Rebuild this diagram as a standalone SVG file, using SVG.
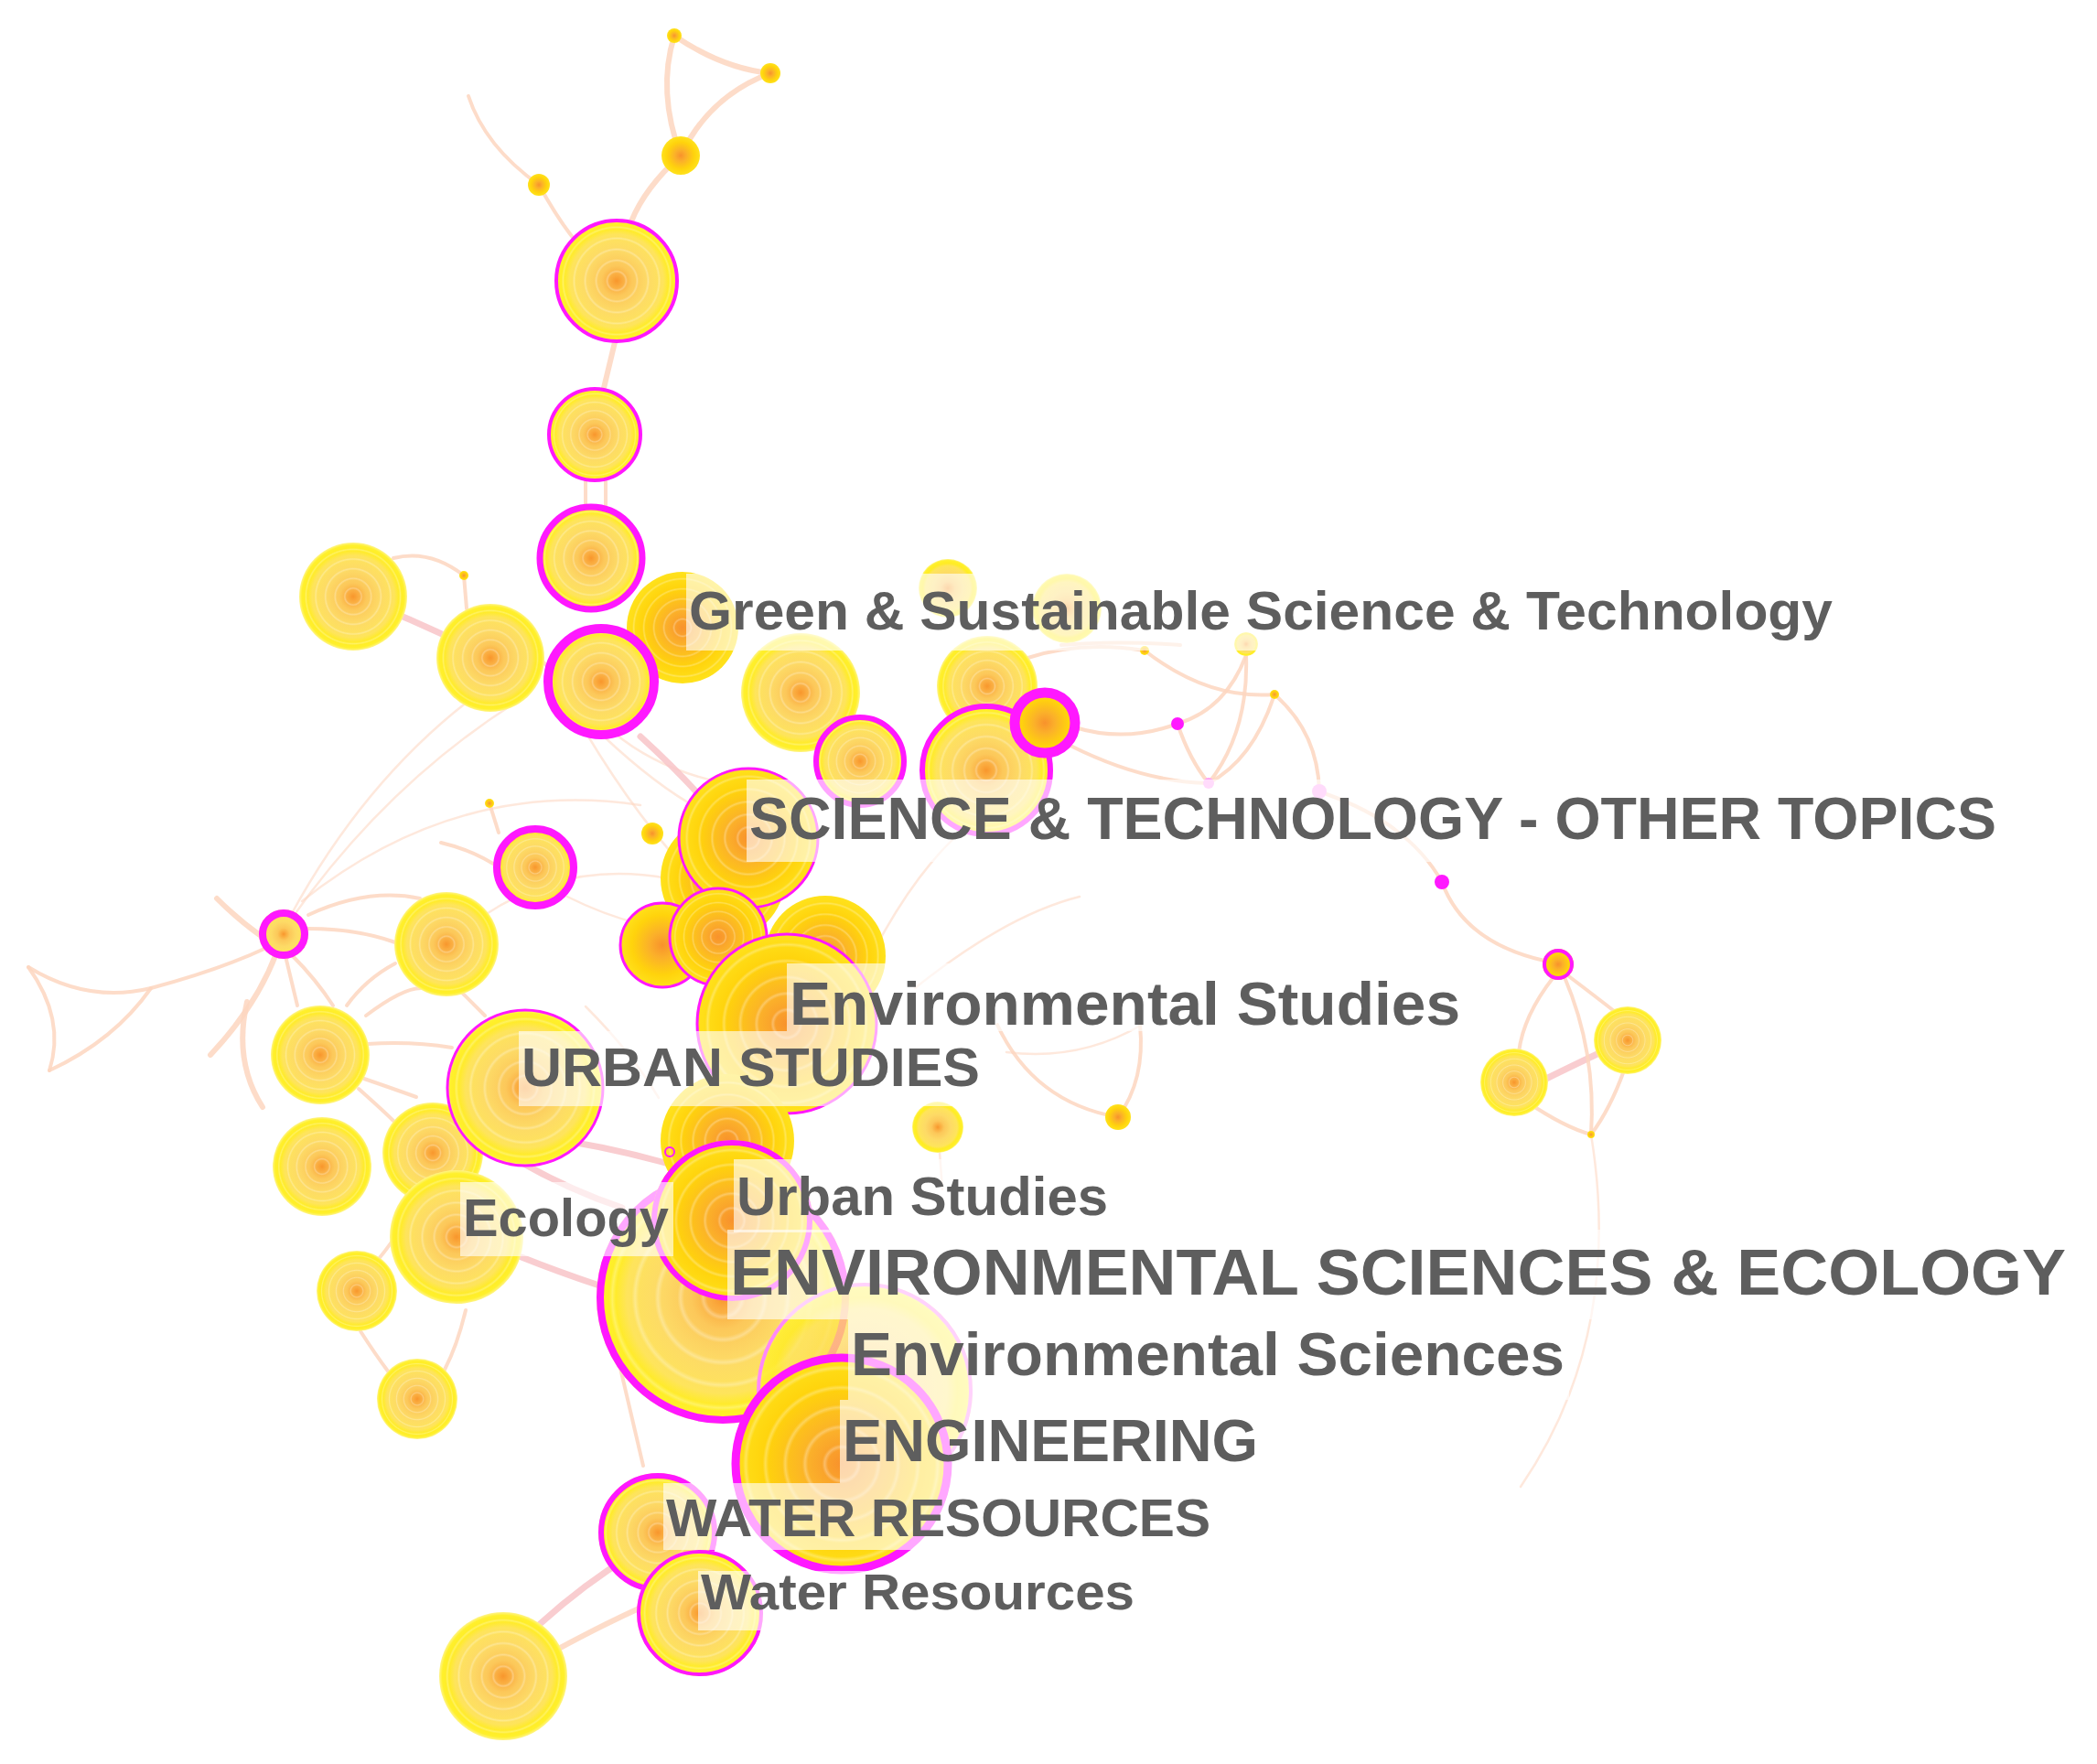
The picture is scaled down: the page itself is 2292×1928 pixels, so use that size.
<svg xmlns="http://www.w3.org/2000/svg" width="2292" height="1928" viewBox="0 0 2292 1928">
<defs>
<radialGradient id="gY">
<stop offset="0" stop-color="#f8962c"/>
<stop offset="0.08" stop-color="#faa83c"/>
<stop offset="0.25" stop-color="#fcc85a"/>
<stop offset="0.5" stop-color="#fdda66"/>
<stop offset="0.76" stop-color="#fee45c"/>
<stop offset="0.86" stop-color="#ffec24"/>
<stop offset="0.95" stop-color="#fff02c"/>
<stop offset="1" stop-color="#fff488"/>
</radialGradient>
<radialGradient id="gS">
<stop offset="0" stop-color="#f8922c"/>
<stop offset="0.3" stop-color="#fbb02a"/>
<stop offset="0.7" stop-color="#ffd30c"/>
<stop offset="1" stop-color="#ffe21c"/>
</radialGradient>
<radialGradient id="rings" r="0.09" spreadMethod="repeat">
<stop offset="0" stop-color="#fff" stop-opacity="0"/>
<stop offset="0.7" stop-color="#fff" stop-opacity="0"/>
<stop offset="0.86" stop-color="#fff" stop-opacity="0.28"/>
<stop offset="1" stop-color="#fff" stop-opacity="0"/>
</radialGradient>
</defs>
<style>
.n{fill:url(#gY)}
.s{fill:url(#gS)}
.rg{fill:url(#rings)}
.m{fill:none;stroke:#ff18ff}
.ml{fill:none;stroke:#ff88f8}
.e{fill:none;stroke:#fdd6c0;stroke-width:4;stroke-linecap:round;opacity:.85}
.ep{stroke:#f8c4c8;stroke-width:7}
.ef{stroke-width:2.5;opacity:.55}
.ew{stroke-width:6}
.lb{fill:#fff;fill-opacity:.62}
.t{font-family:"Liberation Sans",Arial,Helvetica,sans-serif;font-weight:bold;fill:#5e5e5e}
</style>
<rect width="2292" height="1928" fill="#fff"/>

<g id="edges">
<path class="e ew" d="M737,39 Q718,100 744,170"/>
<path class="e ew" d="M737,39 Q790,75 842,80"/>
<path class="e ew" d="M842,80 Q775,105 744,170"/>
<path class="e ew" d="M744,170 Q705,205 690,242"/>
<path class="e" d="M589,202 Q610,240 628,262"/>
<path class="e" d="M589,202 Q530,160 512,105"/>
<path class="e ew" d="M672,374 L660,424"/>
<path class="e" d="M640,526 L640,552"/>
<path class="e" d="M662,526 L662,552"/>
<path class="e ep" d="M386,652 Q460,680 536,719"/>
<path class="e" d="M430,610 Q470,600 507,629"/>
<path class="e" d="M507,629 L510,665"/>
<path class="e" d="M590,720 L610,740"/>
<path class="e" d="M700,730 L712,708"/>
<path class="e ef" d="M640,800 Q700,900 760,960"/>
<path class="e ef" d="M660,805 Q740,880 800,900"/>
<path class="e ef" d="M670,800 Q730,850 820,860"/>
<path class="e ep" d="M700,805 Q760,860 790,900"/>
<path class="e ef" d="M520,760 Q400,850 318,1000"/>
<path class="e ef" d="M560,770 Q420,860 318,1005"/>
<path class="e ef" d="M330,985 Q500,850 700,880"/>
<path class="e" d="M31,1057 Q96,1097 165,1080 Q240,1060 291,1036"/>
<path class="e" d="M31,1057 Q72,1114 54,1170"/>
<path class="e" d="M54,1170 Q125,1137 165,1080"/>
<path class="e ew" d="M237,982 Q260,1005 284,1022"/>
<path class="e" d="M337,1000 Q402,970 459,982"/>
<path class="e" d="M337,1015 Q390,1015 432,1030"/>
<path class="e ew" d="M302,1042 Q280,1100 230,1153"/>
<path class="e ew" d="M270,1095 Q255,1160 287,1210"/>
<path class="e" d="M320,1045 Q345,1070 364,1099"/>
<path class="e" d="M312,1045 L325,1099"/>
<path class="e" d="M402,1141 Q450,1138 494,1145"/>
<path class="e" d="M379,1099 Q400,1070 432,1053"/>
<path class="e" d="M400,1110 Q440,1080 460,1080"/>
<path class="e" d="M398,1179 Q430,1190 455,1199"/>
<path class="e" d="M392,1190 Q420,1215 430,1225"/>
<path class="e" d="M500,1080 Q520,1100 530,1110"/>
<path class="e" d="M394,1455 Q410,1480 425,1500"/>
<path class="e" d="M509,1432 Q500,1470 486,1497"/>
<path class="e" d="M440,1340 Q420,1370 410,1380"/>
<path class="e ep" d="M585,1242 Q660,1252 731,1272"/>
<path class="e ep" d="M570,1374 Q610,1390 655,1405"/>
<path class="e ep" d="M560,1265 Q620,1300 680,1320"/>
<path class="e" d="M482,921 Q520,930 548,950"/>
<path class="e" d="M535,878 L545,910"/>
<path class="e ef" d="M530,1000 Q620,940 730,960"/>
<path class="e ef" d="M620,980 Q660,1000 700,1010"/>
<path class="e ef" d="M640,1100 Q690,1150 720,1200"/>
<path class="e" d="M677,1491 L703,1602"/>
<path class="e ep" d="M590,1775 Q640,1730 690,1700"/>
<path class="e ew" d="M605,1805 Q660,1775 705,1755"/>
<path class="e" d="M1175,795 Q1230,812 1287,791"/>
<path class="e" d="M1120,720 Q1180,700 1251,711"/>
<path class="e" d="M1251,711 Q1320,765 1393,759"/>
<path class="e" d="M1362,716 Q1340,775 1287,791"/>
<path class="e" d="M1362,716 Q1365,800 1321,856"/>
<path class="e" d="M1393,759 Q1440,800 1442,864"/>
<path class="e" d="M1287,791 Q1300,830 1321,856"/>
<path class="e" d="M1393,759 Q1370,830 1321,856"/>
<path class="e" d="M1170,815 Q1250,855 1321,856"/>
<path class="e" d="M1160,705 Q1220,700 1290,705"/>
<path class="e" d="M1450,868 Q1540,900 1576,964"/>
<path class="e" d="M1576,964 Q1600,1030 1688,1050"/>
<path class="e" d="M1712,1065 Q1745,1090 1768,1108"/>
<path class="e" d="M1698,1068 Q1665,1110 1660,1150"/>
<path class="e ep" d="M1750,1150 Q1712,1168 1688,1180"/>
<path class="e" d="M1670,1205 Q1710,1232 1739,1240"/>
<path class="e" d="M1775,1170 Q1760,1212 1739,1240"/>
<path class="e" d="M1710,1068 Q1745,1150 1739,1240"/>
<path class="e ef" d="M1739,1240 Q1775,1460 1662,1625"/>
<path class="e" d="M1090,1120 Q1130,1205 1222,1221"/>
<path class="e" d="M1222,1221 Q1252,1180 1246,1120"/>
<path class="e ef" d="M1100,1150 Q1180,1160 1248,1120"/>
<path class="e ef" d="M960,1030 Q1020,920 1090,880"/>
<path class="e ef" d="M1025,1232 L1030,1300"/>
<path class="e ef" d="M1000,1080 Q1100,1000 1180,980"/>
</g>

<g id="n1"><circle class="s" cx="737" cy="39" r="8"/></g>
<g id="n2"><circle class="s" cx="842" cy="80" r="11"/></g>
<g id="n3"><circle class="s" cx="744" cy="170" r="21"/></g>
<g id="n4"><circle class="s" cx="589" cy="202" r="12"/></g>
<g id="n5"><circle class="n" cx="674" cy="307" r="67"/><circle class="rg" cx="674" cy="307" r="67"/><circle class="m" cx="674" cy="307" r="66" stroke-width="4"/></g>
<g id="n6"><circle class="n" cx="650" cy="475" r="51"/><circle class="rg" cx="650" cy="475" r="51"/><circle class="m" cx="650" cy="475" r="50" stroke-width="4"/></g>
<g id="n7"><circle class="n" cx="646" cy="610" r="58"/><circle class="rg" cx="646" cy="610" r="58"/><circle class="m" cx="646" cy="610" r="56" stroke-width="7"/></g>
<g id="n9"><circle class="n" cx="386" cy="652" r="59"/><circle class="rg" cx="386" cy="652" r="59"/></g>
<g id="n10"><circle class="n" cx="536" cy="719" r="59"/><circle class="rg" cx="536" cy="719" r="59"/></g>
<g id="n36"><circle class="s" cx="507" cy="629" r="5"/></g>
<g id="n11"><circle class="s" cx="746" cy="686" r="61"/><circle class="rg" cx="746" cy="686" r="61"/></g>
<g id="n8"><circle class="n" cx="657" cy="745" r="61"/><circle class="rg" cx="657" cy="745" r="61"/><circle class="m" cx="657" cy="745" r="58" stroke-width="10"/></g>
<g id="n13"><circle class="n" cx="1036" cy="643" r="32"/></g>
<g id="n14"><circle class="n" cx="1166" cy="665" r="38"/></g>
<g id="n12"><circle class="n" cx="875" cy="757" r="65"/><circle class="rg" cx="875" cy="757" r="65"/></g>
<g id="n15"><circle class="n" cx="1079" cy="750" r="55"/><circle class="rg" cx="1079" cy="750" r="55"/></g>
<g id="n16"><circle class="n" cx="940" cy="832" r="50"/><circle class="rg" cx="940" cy="832" r="50"/><circle class="m" cx="940" cy="832" r="48" stroke-width="6"/></g>
<g id="n17"><circle class="n" cx="1078" cy="842" r="72"/><circle class="rg" cx="1078" cy="842" r="72"/><circle class="m" cx="1078" cy="842" r="70" stroke-width="6"/></g>
<g id="n18"><circle class="s" cx="1142" cy="790" r="37"/><circle class="m" cx="1142" cy="790" r="33" stroke-width="11"/></g>
<g id="n19"><circle class="n" cx="1362" cy="704" r="13"/></g>
<g id="n20"><circle class="s" cx="1251" cy="711" r="5"/></g>
<g id="n21"><circle class="s" cx="1393" cy="759" r="5"/></g>
<g id="n22"><circle fill="#ff18ff" cx="1287" cy="791" r="7"/></g>
<g id="n23"><circle fill="#ffa0f4" cx="1321" cy="856" r="6"/></g>
<g id="n24"><circle fill="#ffa0f4" cx="1442" cy="865" r="8"/></g>
<g id="n31"><circle class="n" cx="585" cy="948" r="45"/><circle class="rg" cx="585" cy="948" r="45"/><circle class="m" cx="585" cy="948" r="42" stroke-width="8"/></g>
<g id="n34"><circle class="s" cx="713" cy="911" r="12"/></g>
<g id="n35"><circle class="s" cx="535" cy="878" r="5"/></g>
<g id="n32"><circle class="n" cx="310" cy="1021" r="27"/><circle class="m" cx="310" cy="1021" r="23" stroke-width="8"/></g>
<g id="n33"><circle class="n" cx="488" cy="1032" r="57"/><circle class="rg" cx="488" cy="1032" r="57"/></g>
<g id="n29"><circle class="s" cx="902" cy="1045" r="66"/><circle class="rg" cx="902" cy="1045" r="66"/></g>
<g id="n26"><circle class="s" cx="790" cy="960" r="68"/><circle class="rg" cx="790" cy="960" r="68"/></g>
<g id="n25"><circle class="s" cx="818" cy="916" r="77"/><circle class="rg" cx="818" cy="916" r="77"/><circle class="m" cx="818" cy="916" r="76" stroke-width="3"/></g>
<g id="n28"><circle class="s" cx="724" cy="1033" r="47"/><circle class="m" cx="724" cy="1033" r="46" stroke-width="3"/></g>
<g id="n27"><circle class="s" cx="785" cy="1024" r="54"/><circle class="rg" cx="785" cy="1024" r="54"/><circle class="m" cx="785" cy="1024" r="53" stroke-width="3"/></g>
<g id="n30"><circle class="s" cx="860" cy="1119" r="99"/><circle class="rg" cx="860" cy="1119" r="99"/><circle class="m" cx="860" cy="1119" r="98" stroke-width="3"/></g>
<g id="n37"><circle class="n" cx="350" cy="1153" r="54"/><circle class="rg" cx="350" cy="1153" r="54"/></g>
<g id="n39"><circle class="n" cx="352" cy="1275" r="54"/><circle class="rg" cx="352" cy="1275" r="54"/></g>
<g id="n40"><circle class="n" cx="473" cy="1260" r="55"/><circle class="rg" cx="473" cy="1260" r="55"/></g>
<g id="n38"><circle class="n" cx="574" cy="1189" r="86"/><circle class="rg" cx="574" cy="1189" r="86"/><circle class="m" cx="574" cy="1189" r="85" stroke-width="3"/></g>
<g id="n41"><circle class="n" cx="499" cy="1352" r="73"/><circle class="rg" cx="499" cy="1352" r="73"/></g>
<g id="n42"><circle class="n" cx="390" cy="1411" r="44"/><circle class="rg" cx="390" cy="1411" r="44"/></g>
<g id="n43"><circle class="n" cx="456" cy="1529" r="44"/><circle class="rg" cx="456" cy="1529" r="44"/></g>
<g id="n51"><circle class="n" cx="1025" cy="1232" r="28"/></g>
<g id="n52"><circle class="s" cx="1222" cy="1221" r="14"/></g>
<g id="n45"><circle class="n" cx="790" cy="1418" r="138"/><circle class="rg" cx="790" cy="1418" r="138"/><circle class="m" cx="790" cy="1418" r="134" stroke-width="8"/></g>
<g id="n58"><circle class="s" cx="795" cy="1247" r="73"/><circle class="rg" cx="795" cy="1247" r="73"/></g>
<g id="n44"><circle class="s" cx="800" cy="1334" r="88"/><circle class="rg" cx="800" cy="1334" r="88"/><circle class="m" cx="800" cy="1334" r="85" stroke-width="6"/></g>
<g id="n59"><circle class="m" cx="732" cy="1259" r="5" stroke-width="2"/></g>
<g id="n47"><circle class="n" cx="945" cy="1520" r="118" opacity=".8"/><circle class="ml" cx="945" cy="1520" r="116" stroke-width="4"/></g>
<g id="n46"><circle class="s" cx="920" cy="1600" r="120"/><circle class="rg" cx="920" cy="1600" r="120"/><circle class="m" cx="920" cy="1600" r="116" stroke-width="9"/></g>
<g id="n48"><circle class="n" cx="719" cy="1675" r="65"/><circle class="rg" cx="719" cy="1675" r="65"/><circle class="m" cx="719" cy="1675" r="62" stroke-width="6"/></g>
<g id="n49"><circle class="n" cx="765" cy="1763" r="69"/><circle class="rg" cx="765" cy="1763" r="69"/><circle class="m" cx="765" cy="1763" r="67" stroke-width="4"/></g>
<g id="n50"><circle class="n" cx="550" cy="1832" r="70"/><circle class="rg" cx="550" cy="1832" r="70"/></g>
<g id="n53"><circle fill="#ff18ff" cx="1576" cy="964" r="8"/></g>
<g id="n54"><circle class="s" cx="1703" cy="1054" r="17"/><circle class="m" cx="1703" cy="1054" r="15" stroke-width="4"/></g>
<g id="n55"><circle class="n" cx="1779" cy="1137" r="37"/><circle class="rg" cx="1779" cy="1137" r="37"/></g>
<g id="n56"><circle class="n" cx="1655" cy="1183" r="37"/><circle class="rg" cx="1655" cy="1183" r="37"/></g>
<g id="n57"><circle class="s" cx="1739" cy="1240" r="4"/></g>

<g id="labels">
<rect class="lb" x="750" y="627" width="1258" height="84"/>
<text class="t" x="753" y="688" font-size="60" textLength="1250" lengthAdjust="spacingAndGlyphs">Green &amp; Sustainable Science &amp; Technology</text>
<rect class="lb" x="816" y="852" width="1371" height="90"/>
<text class="t" x="819" y="917" font-size="64" textLength="1363" lengthAdjust="spacingAndGlyphs">SCIENCE &amp; TECHNOLOGY - OTHER TOPICS</text>
<rect class="lb" x="860" y="1053" width="741" height="74"/>
<text class="t" x="863" y="1120" font-size="66" textLength="733" lengthAdjust="spacingAndGlyphs">Environmental Studies</text>
<rect class="lb" x="567" y="1127" width="509" height="82"/>
<text class="t" x="570" y="1187" font-size="60" textLength="501" lengthAdjust="spacingAndGlyphs">URBAN STUDIES</text>
<rect class="lb" x="802" y="1267" width="414" height="80"/>
<text class="t" x="805" y="1328" font-size="60" textLength="406" lengthAdjust="spacingAndGlyphs">Urban Studies</text>
<rect class="lb" x="503" y="1292" width="233" height="81"/>
<text class="t" x="506" y="1351" font-size="58" textLength="225" lengthAdjust="spacingAndGlyphs">Ecology</text>
<rect class="lb" x="795" y="1344" width="1468" height="98"/>
<text class="t" x="798" y="1415" font-size="71" textLength="1460" lengthAdjust="spacingAndGlyphs">ENVIRONMENTAL SCIENCES &amp; ECOLOGY</text>
<rect class="lb" x="927" y="1442" width="788" height="88"/>
<text class="t" x="930" y="1503" font-size="66" textLength="780" lengthAdjust="spacingAndGlyphs">Environmental Sciences</text>
<rect class="lb" x="918" y="1530" width="462" height="91"/>
<text class="t" x="921" y="1597" font-size="64" textLength="454" lengthAdjust="spacingAndGlyphs">ENGINEERING</text>
<rect class="lb" x="725" y="1621" width="603" height="73"/>
<text class="t" x="728" y="1679" font-size="58" textLength="595" lengthAdjust="spacingAndGlyphs">WATER RESOURCES</text>
<rect class="lb" x="763" y="1717" width="482" height="65"/>
<text class="t" x="766" y="1759" font-size="56" textLength="474" lengthAdjust="spacingAndGlyphs">Water Resources</text>
</g>
</svg>
